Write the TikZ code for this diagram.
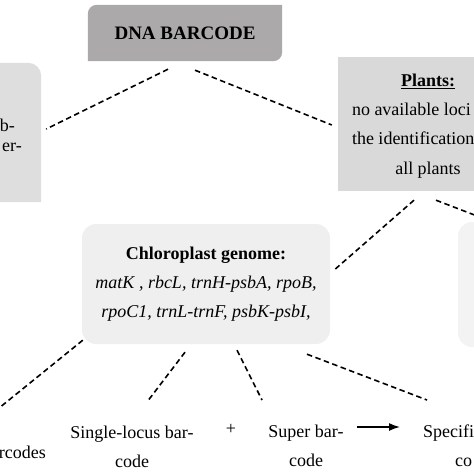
\documentclass[tikz,border=0pt]{standalone}
\usepackage{fontspec}
\setmainfont{Liberation Serif}
\usetikzlibrary{arrows.meta,backgrounds,calc}

\definecolor{dnagrey}{RGB}{171,169,169}
\definecolor{plantgrey}{RGB}{217,217,217}
\definecolor{sidegrey}{RGB}{222,222,222}
\definecolor{chlorogrey}{RGB}{239,239,239}
\definecolor{rightgrey}{RGB}{243,243,243}

\tikzset{
  txt/.style={inner sep=0pt,align=center,font=\fontsize{18}{29.3}\selectfont},
  link/.style={dash pattern=on 5.5pt off 3.5pt,line width=1.6pt},
  arr/.style={-{Latex[length=11pt,width=8pt]},line width=1.5pt},
}
\newcommand{\cutline}[1]{\makebox[152pt][l]{#1}}

\begin{document}
\begin{tikzpicture}[x=1pt,y=-1pt]
\useasboundingbox (0,0) rectangle (474,474);
\clip (0,0) rectangle (474,474);
% boxes
\node[txt,font=\bfseries\fontsize{19}{22}\selectfont,minimum width=194pt,minimum height=56pt] (dna) at (185,33) {DNA BARCODE};
\node[minimum width=61pt,minimum height=139pt] (side) at (10.5,132.5) {};
\node[fill=plantgrey,minimum width=180pt,minimum height=134pt] (plants) at (428,124) {};
\node[txt] (plants-txt) at (428,126)
  {\underline{\textbf{Plants:}}\\\cutline{no available loci}\\\cutline{the identification}\\all plants};
\node[txt,fill=chlorogrey,rounded corners=14pt,minimum width=248pt,minimum height=120pt] (chloro) at (206,284)
  {\textbf{Chloroplast genome:}\\\textit{matK , rbcL, trnH-psbA, rpoB,}\\\textit{rpoC1, trnL-trnF, psbK-psbI,}};
\node[fill=rightgrey,rounded corners=14pt,minimum width=100pt,minimum height=125pt] (right) at (508,284.5) {};
\begin{scope}[on background layer]
  \fill[dnagrey] (dna.south west) -- ([yshift=-9pt]dna.north west) arc[start angle=180,end angle=90,radius=9pt]
    -- (dna.north east) -- ([yshift=9pt]dna.south east) arc[start angle=0,end angle=-90,radius=9pt] -- cycle;
  \fill[sidegrey] (side.south west) -- (side.north west) -- ([xshift=-13pt]side.north east)
    arc[start angle=90,end angle=0,radius=13pt] -- (side.south east) -- cycle;
\end{scope}
\node[txt,anchor=east] (side-a) at (15,125) {b-};
\node[txt,anchor=east] (side-b) at (22,147) {er-};
% bottom row
\node[txt,anchor=east] (multi) at (46,452) {rcodes};
\node[txt] (single) at (132,447) {Single-locus bar-\\code};
\node[txt] (plus) at (231,429) {+};
\node[txt] (super) at (306,446) {Super bar-\\code};
\node[txt,anchor=west,align=left] (specific) at (423,446) {Specifi\\\hspace*{32pt}co};
% links
\path ($(dna.south)+(-17,8)$) edge[link] ($(side.east)+(5,-3.5)$);
\path ($(dna.south)+(10,9)$) edge[link] ($(plants.west)+(-6,1)$);
\path ($(plants.south)+(-14,9)$) edge[link] ($(chloro.east)+(4,-14)$);
\path ($(plants.south)+(8,9)$) edge[link] ($(right.north)+(-21,-2)$);
\path ($(chloro.south west)+(1,-4)$) edge[link] ($(multi.east)+(-58,-35)$);
\path ($(chloro.south)+(-21,8)$) edge[link] ($(single)+(15,-45)$);
\path ($(chloro.south)+(31,6)$) edge[link] ($(super)+(-44,-46)$);
\path ($(chloro.south)+(101,10)$) edge[link] ($(specific.west)+(4,-46)$);
\draw[arr,shorten <=13pt,shorten >=23pt] ([yshift=19pt]super.east) -- ([yshift=19pt]specific.west);
\end{tikzpicture}
\end{document}
